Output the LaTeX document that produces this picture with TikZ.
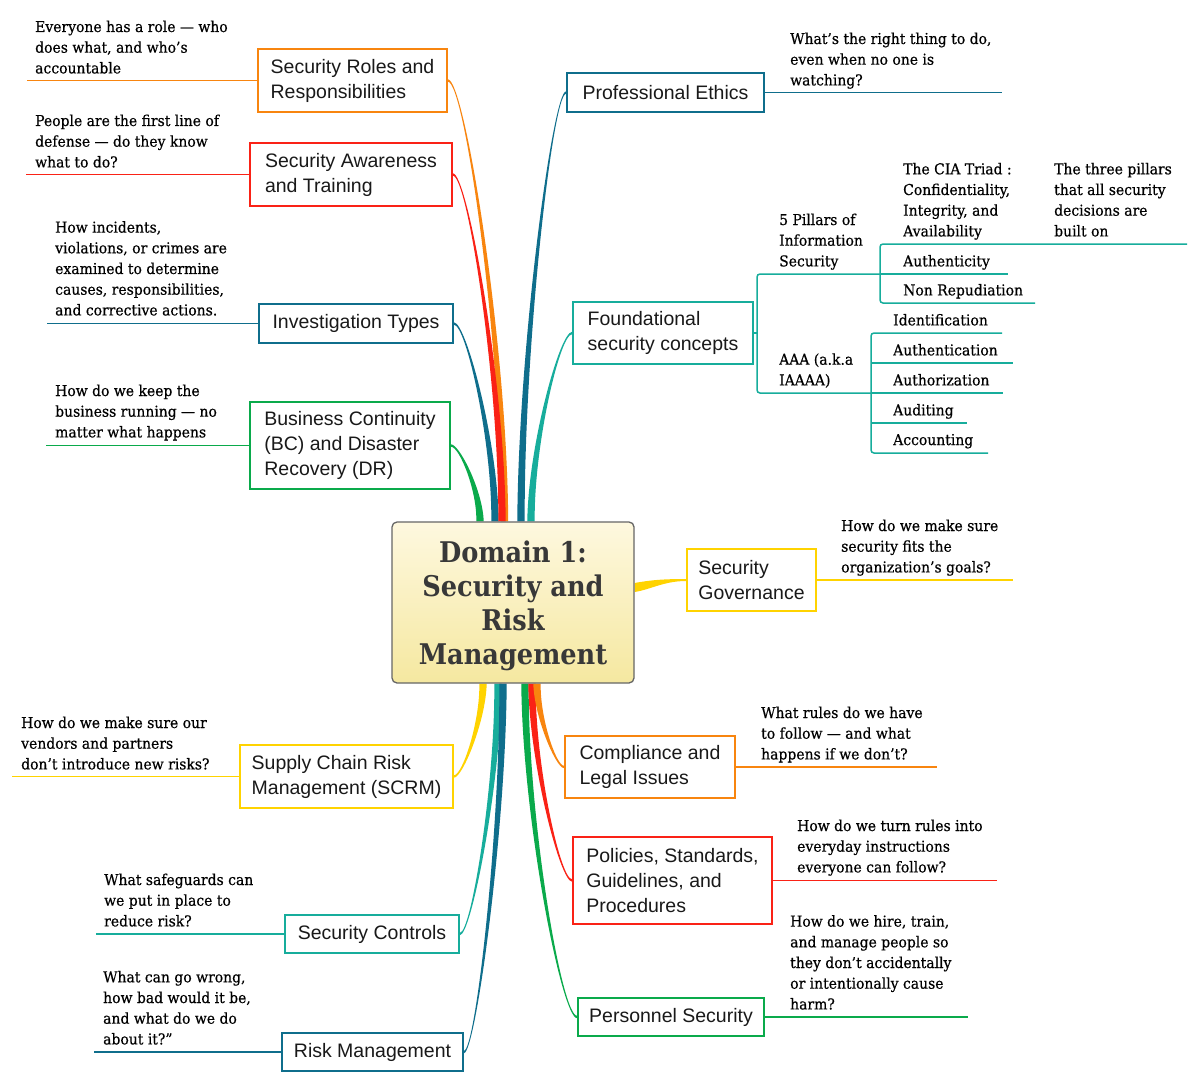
\documentclass[tikz,border=0pt]{standalone}
\usepackage{fontspec}
\setmainfont{Liberation Sans}
\newfontfamily\notefont[FakeStretch=0.93,FakeBold=0.5]{DejaVu Serif}
\newfontfamily\hubfont[FakeStretch=0.9]{DejaVu Serif}
\usetikzlibrary{calc,backgrounds}

\definecolor{orangeC}{HTML}{F8850F}
\definecolor{redC}{HTML}{FA2216}
\definecolor{blueC}{HTML}{0F6E8C}
\definecolor{greenC}{HTML}{0AAA4B}
\definecolor{yellowC}{HTML}{FFD300}
\definecolor{tealC}{HTML}{17AD9C}
\definecolor{hubTop}{HTML}{FEF8DF}
\definecolor{hubBot}{HTML}{F5E8A0}

% tapered branch: colour, box side, root on the hub, turn (+1/-1)
\newcommand{\limb}[4]{%
  \fill[#1] let \p1=(#2), \p2=(#3), \n1={#4} in
    (\x1,\y1+1.2pt) .. controls (\x1+0.3*\x2-0.3*\x1,\y1+1.2pt) and (\x2+\n1*2.8pt,0.4*\y1+0.6*\y2) .. (\x2+\n1*3.7pt,\y2)
    -- (\x2-\n1*3.7pt,\y2) .. controls (\x2-\n1*2.8pt,0.4*\y1+0.6*\y2) and (\x1+0.3*\x2-0.3*\x1,\y1-1.2pt) .. (\x1,\y1-1.2pt) -- cycle;}

\begin{document}
\begin{tikzpicture}[x=1pt,y=-1pt]
      \tikzstyle{topic}=[draw, line width=1.8pt, fill=white, inner xsep=11pt, inner ysep=0pt, align=left, text=black!90, font=\fontsize{19.5}{25}\selectfont]
      \tikzstyle{note}=[inner sep=0pt, anchor=north west, align=left, text=black, font=\notefont\fontsize{15}{20.7}\selectfont]
      \tikzstyle{noteline}=[line width=1.5pt]
      \tikzstyle{hub}=[draw=black!60, line width=1.3pt, rounded corners=5pt, top color=hubTop, bottom color=hubBot, minimum width=242pt, minimum height=161pt, align=center, text=black!78, font=\hubfont\bfseries\fontsize{28.5}{34}\selectfont]

      \useasboundingbox (0,0) rectangle (1200,1084);

      \node[hub] (hub) at (513,602.5) {\rule{0pt}{29pt}Domain 1:\\Security and\\Risk\\Management};

      \node[topic, draw=orangeC, minimum width=189pt, minimum height=63pt] (roles) at (352.5,80.5) {Security Roles and\\Responsibilities};
      \node[topic, draw=redC, minimum width=202pt, minimum height=63pt] (aware) at (351,174.5) {Security Awareness\\and Training};
      \node[topic, draw=blueC, minimum width=194pt, minimum height=39pt] (invest) at (356,323.5) {Investigation Types};
      \node[topic, draw=greenC, minimum width=200pt, minimum height=87pt] (bc) at (350,445.5) {Business Continuity\\(BC) and Disaster\\Recovery (DR)};
      \node[topic, draw=yellowC, minimum width=213pt, minimum height=63pt] (scrm) at (346.5,776.5) {Supply Chain Risk\\Management (SCRM)};
      \node[topic, draw=tealC, minimum width=174pt, minimum height=38pt] (ctrl) at (372,934) {Security Controls};
      \node[topic, draw=blueC, minimum width=181pt, minimum height=38pt] (riskm) at (372.5,1052) {Risk Management};

      \node[topic, draw=blueC, minimum width=197pt, minimum height=39pt] (ethics) at (665.5,92.5) {Professional Ethics};
      \node[topic, draw=tealC, minimum width=180pt, minimum height=62pt] (found) at (663,333) {Foundational\\security concepts};
      \node[topic, draw=yellowC, minimum width=129pt, minimum height=62pt] (gov) at (751.5,580) {Security\\Governance};
      \node[topic, draw=orangeC, minimum width=170pt, minimum height=62pt] (comp) at (650,767) {Compliance and\\Legal Issues};
      \node[topic, draw=redC, minimum width=199pt, minimum height=87pt] (policy) at (672.5,880.5) {Policies, Standards,\\Guidelines, and\\Procedures};
      \node[topic, draw=greenC, minimum width=186pt, minimum height=38pt] (person) at (671,1017) {Personnel Security};

      \begin{pgfonlayer}{background}
        \fill[white] (0,0) rectangle (1200,1084);
        \limb{greenC}{bc.east}{$(hub.north)+(-33,0)$}{1}
        \limb{blueC}{invest.east}{$(hub.north)+(-18,0)$}{1}
        \limb{orangeC}{roles.east}{$(hub.north)+(-8.5,0)$}{1}
        \limb{redC}{aware.east}{$(hub.north)+(-11,0)$}{1}
        \limb{blueC}{ethics.west}{$(hub.north)+(8,0)$}{-1}
        \limb{tealC}{found.west}{$(hub.north)+(18,0)$}{-1}
        \limb{yellowC}{scrm.east}{$(hub.south)+(-30,0)$}{-1}
        \limb{tealC}{ctrl.east}{$(hub.south)+(-15,0)$}{-1}
        \limb{blueC}{riskm.east}{$(hub.south)+(-10,0)$}{-1}
        \limb{greenC}{person.west}{$(hub.south)+(12,0)$}{1}
        \limb{redC}{policy.west}{$(hub.south)+(19,0)$}{1}
        \limb{orangeC}{comp.west}{$(hub.south)+(24,0)$}{1}
        \fill[yellowC] ($(hub.east)+(0,-19.5)$) .. controls ($(hub.east)+(16,-22.5)$) and ($(gov.west)+(-22,-1)$) .. ($(gov.west)+(0,-1)$)
          -- ($(gov.west)+(0,1)$) .. controls ($(gov.west)+(-22,1)$) and ($(hub.east)+(16,-13)$) .. ($(hub.east)+(0,-10.5)$) -- cycle;
      \end{pgfonlayer}

      \node[note] (rolesNote) at (35,20.4) {Everyone has a role — who\\does what, and who’s\\accountable};
      \node[note] (awareNote) at (35,114.4) {People are the first line of\\defense — do they know\\what to do?};
      \node[note] (investNote) at (55,221) {How incidents,\\violations, or crimes are\\examined to determine\\causes, responsibilities,\\and corrective actions.};
      \node[note] (bcNote) at (55,384.4) {How do we keep the\\business running — no\\matter what happens};
      \node[note] (scrmNote) at (21,716.4) {How do we make sure our\\vendors and partners\\don’t introduce new risks?};
      \node[note] (ctrlNote) at (104,873.4) {What safeguards can\\we put in place to\\reduce risk?};
      \node[note] (riskmNote) at (103,970.7) {What can go wrong,\\how bad would it be,\\and what do we do\\about it?”};
      \node[note] (ethicsNote) at (790,32.4) {What’s the right thing to do,\\even when no one is\\watching?};
      \node[note] (govNote) at (841,519.4) {How do we make sure\\security fits the\\organization’s goals?};
      \node[note] (compNote) at (761,706.4) {What rules do we have\\to follow — and what\\happens if we don’t?};
      \node[note] (policyNote) at (797,819.4) {How do we turn rules into\\everyday instructions\\everyone can follow?};
      \node[note] (personNote) at (790,915) {How do we hire, train,\\and manage people so\\they don’t accidentally\\or intentionally cause\\harm?};

      \coordinate (rolesEnd) at (27,80.5);
      \coordinate (awareEnd) at (26,174.5);
      \coordinate (investEnd) at (47,323.5);
      \coordinate (bcEnd) at (46,445.5);
      \coordinate (scrmEnd) at (12,776.5);
      \coordinate (ctrlEnd) at (96,934);
      \coordinate (riskmEnd) at (94,1052);
      \coordinate (ethicsEnd) at (1002,92.5);
      \coordinate (govEnd) at (1013,580);
      \coordinate (compEnd) at (937,767);
      \coordinate (policyEnd) at (997,880.5);
      \coordinate (personEnd) at (968,1017);

      \draw[noteline, orangeC] (roles.west) -- (rolesEnd);
      \draw[noteline, redC] (aware.west) -- (awareEnd);
      \draw[noteline, blueC] (invest.west) -- (investEnd);
      \draw[noteline, greenC] (bc.west) -- (bcEnd);
      \draw[noteline, yellowC] (scrm.west) -- (scrmEnd);
      \draw[noteline, tealC] (ctrl.west) -- (ctrlEnd);
      \draw[noteline, blueC] (riskm.west) -- (riskmEnd);
      \draw[noteline, blueC] (ethics.east) -- (ethicsEnd);
      \draw[noteline, yellowC] (gov.east) -- (govEnd);
      \draw[noteline, orangeC] (comp.east) -- (compEnd);
      \draw[noteline, redC] (policy.east) -- (policyEnd);
      \draw[noteline, greenC] (person.east) -- (personEnd);

      \coordinate (fj) at (757,333);
      \coordinate (pj) at (880,274);
      \coordinate (aj) at (871,393);
      \coordinate (ciaEnd) at (1187,244);
      \coordinate (authEnd) at (1008,274);
      \coordinate (nrEnd) at (1035,303);
      \coordinate (idEnd) at (1002,333);
      \coordinate (authnEnd) at (1013,363);
      \coordinate (authzEnd) at (1003,393);
      \coordinate (auditEnd) at (967,423);
      \coordinate (acctEnd) at (988,453);

      \draw[noteline, tealC] (found.east) -- (fj);
      \draw[noteline, tealC, rounded corners=3pt] (pj) -| (fj) |- (aj);
      \draw[noteline, tealC, rounded corners=3pt] (ciaEnd) -| (pj) |- (nrEnd);
      \draw[noteline, tealC] (pj) -- (authEnd);
      \draw[noteline, tealC, rounded corners=3pt] (idEnd) -| (aj) |- (acctEnd);
      \draw[noteline, tealC] (aj) -- (authzEnd);
      \draw[noteline, tealC] (aj |- authnEnd) -- (authnEnd);
      \draw[noteline, tealC] (aj |- auditEnd) -- (auditEnd);

      \node[note] (pillars) at (779,213.4) {5 Pillars of\\Information\\Security};
      \node[note] (aaa) at (779,353.1) {AAA (a.k.a\\IAAAA)};
      \node[note] (cia) at (903,162.7) {The CIA Triad :\\Confidentiality,\\Integrity, and\\Availability};
      \node[note] (ciaNote) at (1054,162.7) {The three pillars\\that all security\\decisions are\\built on};
      \node[note] (authc) at (903,254.8) {Authenticity};
      \node[note] (nonrep) at (903,283.8) {Non Repudiation};
      \node[note] (ident) at (893,313.8) {Identification};
      \node[note] (authn) at (893,343.8) {Authentication};
      \node[note] (authz) at (893,373.8) {Authorization};
      \node[note] (audit) at (893,403.8) {Auditing};
      \node[note] (acct) at (893,433.8) {Accounting};
\end{tikzpicture}
\end{document}
